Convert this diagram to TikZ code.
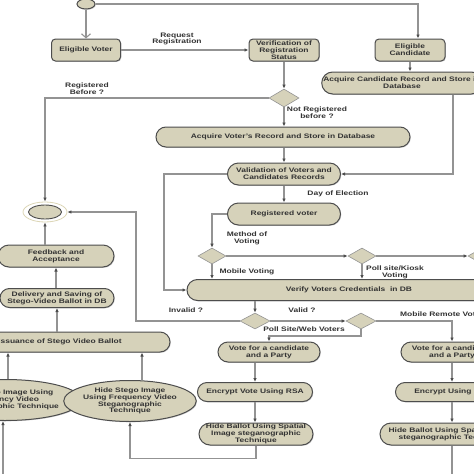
\documentclass[tikz,border=0pt]{standalone}
\usepackage{fontspec}
\setmainfont[FakeStretch=1.3]{Liberation Sans}
\usetikzlibrary{shapes.geometric,shapes.misc,arrows.meta,shadows,calc}
\definecolor{nodefill}{HTML}{D6D2BA}
\definecolor{nodeedge}{HTML}{4D4D4D}
\definecolor{wire}{HTML}{939393}
\definecolor{txt}{HTML}{333333}
\definecolor{ringc}{HTML}{DCD6B6}
\tikzset{
  base/.style={fill=nodefill, draw=nodeedge, line width=1pt, text=txt,
    font=\fontsize{6.5}{6.8}\selectfont\bfseries, align=center, inner sep=0pt,
    drop shadow={shadow xshift=0.8pt, shadow yshift=-0.8pt, fill=black, opacity=0.2}},
  actbox/.style={base, rectangle, rounded corners=4pt},
  stad/.style={base, rounded rectangle},
  ell/.style={base, ellipse},
  dec/.style={fill=nodefill, draw=nodeedge!60, line width=0.6pt, diamond, inner sep=0pt},
  arr/.style={draw=wire, line width=1.1pt, -{Latex[length=4pt,width=3.5pt,color=nodeedge]}},
  umlarr/.style={draw=wire, line width=1.1pt, -{Straight Barb[length=4pt,width=9pt,color=wire]}},
  lbl/.style={text=txt, font=\fontsize{6.5}{6.8}\selectfont\bfseries, align=center, inner sep=0pt}
}
\begin{document}
\begin{tikzpicture}[x=1pt,y=-1pt]
\useasboundingbox (0,0) rectangle (474,474);
\clip (0,0) rectangle (474,474);
\fill[white] (0,0) rectangle (474,474);

% nodes
\node[base, ellipse, minimum width=18pt, minimum height=10pt] (init) at (86,4) {};
\node[actbox, minimum width=69pt, minimum height=22pt] (ev) at (86,50) {Eligible Voter};
\node[actbox, minimum width=70pt, minimum height=22pt] (vrs) at (284,50) {Verification of\\Registration\\Status};
\node[actbox, minimum width=70pt, minimum height=22pt] (ec) at (410,50) {Eligible\\Candidate};
\node[stad, minimum width=154pt, minimum height=22pt] (acr) at (402,83) {Acquire Candidate Record and Store in\\Database};
\node[dec, minimum width=30pt, minimum height=18pt] (d1) at (284,98) {};
\node[stad, minimum width=254pt, minimum height=20pt] (avr) at (283,137) {Acquire Voter's Record and Store in Database};
\node[stad, minimum width=113pt, minimum height=22pt] (val) at (284,174) {Validation of Voters and\\Candidates Records};
\node[stad, minimum width=113pt, minimum height=22pt] (rv) at (284,214) {Registered voter};
\node[dec, minimum width=28pt, minimum height=16pt] (d2) at (212,256) {};
\node[dec, minimum width=28pt, minimum height=16pt] (d3) at (362,256) {};
\node[dec, minimum width=28pt, minimum height=16pt] (d4) at (482,256) {};
\node[stad, minimum width=324pt, minimum height=21pt] (verify) at (349,290) {Verify Voters Credentials\ \ in DB};
\node[dec, minimum width=30pt, minimum height=16pt] (d5) at (255,321) {};
\node[dec, minimum width=30pt, minimum height=16pt] (d6) at (361,321) {};
\node[stad, minimum width=102pt, minimum height=20pt] (vote1) at (269,352) {Vote for a candidate\\and a Party};
\node[stad, minimum width=115pt, minimum height=19pt] (enc1) at (255,392) {Encrypt Vote Using RSA};
\node[stad, minimum width=114pt, minimum height=22pt] (hide1) at (256,434) {Hide Ballot Using Spatial\\Image steganographic\\Technique};
\node[stad, minimum width=102pt, minimum height=20pt] (vote2) at (452,352) {Vote for a candidate\\and a Party};
\node[stad, minimum width=115pt, minimum height=19pt] (enc2) at (453,392) {Encrypt Using RSA};
\node[stad, minimum width=144pt, minimum height=22pt] (hide2) at (452,434) {Hide Ballot Using Spatial Image\\steganographic Technique};
\node[ell, minimum width=126pt, minimum height=41pt] (el1) at (5,400) {Hide Stego Image Using\\Frequency Video\\Steganographic Technique};
\node[ell, minimum width=105pt, minimum height=41pt] (el2) at (130,401) {Hide Stego Image\\Using Frequency Video\\Steganographic\\Technique};
\node[stad, minimum width=220pt, minimum height=20pt] (issue) at (60,342) {Issuance of Stego Video Ballot};
\node[stad, minimum width=114pt, minimum height=19pt] (del) at (57,298) {Delivery and Saving of\\Stego-Video Ballot in DB};
\node[stad, minimum width=116pt, minimum height=22pt] (fb) at (56,256) {Feedback and\\Acceptance};
\node[ellipse, draw=ringc, line width=0.8pt, fill=white, minimum width=44pt, minimum height=20pt, inner sep=0pt] (fin) at (45,212) {};
\node[ellipse, fill=nodefill, draw=nodeedge, line width=0.9pt, minimum width=33pt, minimum height=14pt, inner sep=0pt] (finin) at (fin.center) {};

% labels
\node[lbl] (lreq) at (177,39) {Request\\Registration};
\node[lbl] (lregb) at (87,89) {Registered\\Before ?};
\node[lbl] (lnreg) at (317,113) {Not Registered\\before ?};
\node[lbl] (lday) at (338,194) {Day of Election};
\node[lbl] (lmeth) at (247,238) {Method of\\Voting};
\node[lbl] (lmob) at (247,272) {Mobile Voting};
\node[lbl] (lpoll) at (395,272) {Poll site/Kiosk\\Voting};
\node[lbl] (linv) at (186,310) {Invalid ?};
\node[lbl] (lval) at (302,310) {Valid ?};
\node[lbl] (lweb) at (304,329) {Poll Site/Web Voters};
\node[lbl, anchor=west] (lrem) at (400,314) {Mobile Remote Voters};

% helper coordinates
\coordinate (invc) at (136,321);
\coordinate (pwc) at (361,336);
\path ([xshift=8pt]ec.north) coordinate (ect);
\path ([xshift=51pt]acr.south) coordinate (acb);
\path ([xshift=12pt]el2.north) coordinate (e2t);
\path ([xshift=3pt]el1.north) coordinate (e1t);

% connectors
\draw[umlarr] (init.south) -- (ev.north);
\draw[arr] (init.east) -| (ect);
\draw[arr] (ev.east) -- (vrs.west);
\draw[arr] (vrs.south) -- (d1.north);
\draw[arr] (ec.south) -- (ec.south |- acr.north);
\draw[arr] (d1.west) -| (fin.north);
\draw[arr] (d1.south) -- (d1.south |- avr.north);
\draw[arr] (avr.south -| val.north) -- (val.north);
\draw[arr] (acb) |- (val.east);
\draw[arr] (val.south) -- (rv.north);
\draw[arr] (val.west) -- ++(-63,0) |- (verify.west);
\draw[arr] (rv.west) -| (d2.north);
\draw[arr] (d2.east) -- (d3.west);
\draw[arr] (d3.east) -- (d4.west);
\draw[arr] (d2.south) -- (d2.south |- verify.north);
\draw[arr] (d3.south) -- (d3.south |- verify.north);
\draw[arr] (d5.north |- verify.south) -- (d5.north);
\draw[arr] (d5.west) -- (invc) |- (fin.east);
\draw[arr] (d5.east) -- (d6.west);
\draw[arr] (d6.east) -| (vote2.north);
\draw[arr] (d6.south) -- (pwc) -| (vote1.north);
\draw[arr] (vote1.south -| enc1.north) -- (enc1.north);
\draw[arr] (enc1.south) -- (enc1.south |- hide1.north);
\draw[arr] (hide1.south) -- ++(0,13) -| (el2.south);
\draw[arr] (vote2.south) -- (vote2.south |- enc2.north);
\draw[arr] (enc2.south -| vote2.south) -- (vote2.south |- hide2.north);
\draw[arr] (hide2.south) -- ++(0,35) -| ([xshift=-2pt]el1.south);
\draw[arr] (e1t) -- (e1t |- issue.south);
\draw[arr] (e2t) -- (e2t |- issue.south);
\draw[arr] (del.south |- issue.north) -- (del.south);
\draw[arr] (del.north -| fb.south) -- (fb.south);
\draw[arr] (fin.south |- fb.north) -- (fin.south);
\end{tikzpicture}
\end{document}
